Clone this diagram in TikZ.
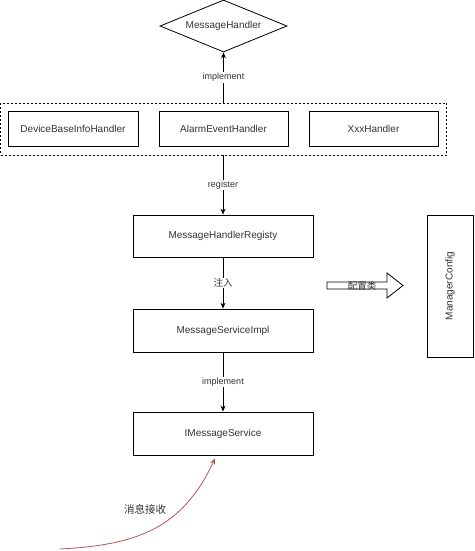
\documentclass[tikz,border=0pt]{standalone}
\usepackage{fontspec}
\setmainfont{Liberation Sans}
\newfontfamily\cjk{Noto Sans CJK SC}
\usetikzlibrary{shapes.geometric,arrows.meta,calc}
\definecolor{ink}{HTML}{333333}
\definecolor{curvered}{HTML}{B85450}
\tikzset{
  box/.style={draw=black,line width=0.8pt,rectangle,inner sep=0pt,font=\fontsize{10}{12}\selectfont,text=ink},
  conn/.style={draw=black,line width=0.8pt,-{Stealth[length=6pt,width=5pt]}},
  lbl/.style={fill=white,inner sep=1pt,font=\fontsize{9}{11}\selectfont,text=ink},
}
\begin{document}
\begin{tikzpicture}[x=1pt,y=-1pt]
\useasboundingbox (0,0) rectangle (474,551);
% diamond
\node[box,diamond,aspect=2.44,minimum width=127pt,minimum height=52pt] (mh) at (223.5,26) {MessageHandler};
% dashed container
\node[draw=black,line width=0.8pt,dashed,dash pattern=on 2pt off 2pt,rectangle,minimum width=446pt,minimum height=52pt,inner sep=0pt] (grp) at (223.5,129) {};
\node[box,minimum width=130pt,minimum height=35pt] (dbi) at (73,128.5) {DeviceBaseInfoHandler};
\node[box,minimum width=129pt,minimum height=35pt] (aeh) at (223.5,128.5) {AlarmEventHandler};
\node[box,minimum width=129pt,minimum height=35pt] (xxx) at (373.5,128.5) {XxxHandler};
% main column
\node[box,minimum width=180pt,minimum height=42pt] (reg) at (223,236) {MessageHandlerRegisty};
\node[box,minimum width=180pt,minimum height=43pt] (impl) at (223,330.5) {MessageServiceImpl};
\node[box,minimum width=180pt,minimum height=43pt] (ims) at (223,433.5) {IMessageService};
% manager config
\node[box,minimum width=46pt,minimum height=142pt] (mc) at (450,286) {};
\node[rotate=90,font=\fontsize{10}{12}\selectfont,text=ink] (mct) at (mc.center) {ManagerConfig};
% connectors
\draw[conn] (grp.north -| mh.south) -- node[lbl] (l1) {implement} (mh.south);
\draw[conn] (grp.south -| reg.north) -- node[lbl] (l2) {register} (reg.north);
\draw[conn] (reg.south) -- node[lbl,font=\cjk\fontsize{9.5}{11}\selectfont] (l3) {注入} (impl.north);
\draw[conn] (impl.south) -- node[lbl] (l4) {implement} (ims.north);
% block arrow
\draw[line width=0.8pt,fill=white] (327,282) -- (387,282) -- (387,273) -- (403,285.5) -- (387,298) -- (387,289) -- (327,289) -- cycle;
\node[font=\cjk\fontsize{9.5}{11}\selectfont,text=ink,inner sep=0pt] (cfg) at (362,285.5) {配置类};
% red curve
\coordinate (recv) at (60,549);
\draw[curvered,line width=0.8pt,-{Stealth[length=6pt,width=5pt]}] (recv) to[out=3,in=-115,looseness=1.1] ([xshift=-8pt,yshift=-3pt]ims.south);
\node[font=\cjk\fontsize{10.5}{12}\selectfont,text=ink] (rl) at (145,509) {消息接收};
\end{tikzpicture}
\end{document}
